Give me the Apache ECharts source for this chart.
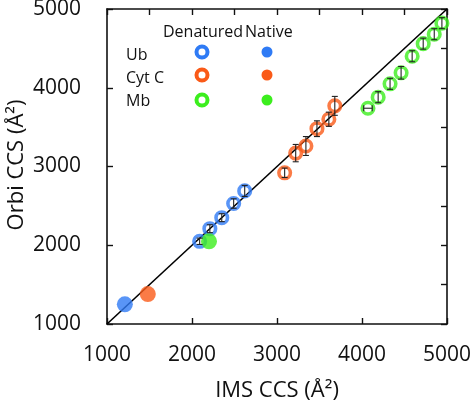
<!DOCTYPE html>
<html>
<head>
<meta charset="utf-8">
<script src="https://cdn.jsdelivr.net/npm/echarts@6/dist/echarts.min.js"></script>
<style>
  html, body { margin: 0; padding: 0; background: #fff; }
  #chart { width: 474px; height: 401px; }
</style>
</head>
<body>
<div id="chart"></div>
<script>
// data (CCS in Å²)
const ubDenatured = [[2090, 2050], [2210, 2210], [2350, 2350], [2490, 2530], [2620, 2690]];
const ubDenErr = [40, 50, 50, 60, 70];
const cytDenatured = [[3090, 2920], [3220, 3170], [3340, 3260], [3470, 3480], [3610, 3600], [3680, 3770]];
const cytDenErr = [60, 110, 120, 100, 90, 120];
const mbDenatured = [[4070, 3740], [4190, 3880], [4330, 4050], [4460, 4190], [4590, 4400], [4720, 4560], [4850, 4680], [4940, 4820]];
const mbDenErr = [0, 70, 70, 80, 70, 70, 70, 70];
const mbDenXErr = [50, 0, 0, 0, 0, 0, 0, 0];
const ubNative = [[1210, 1250]];
const cytNative = [[1480, 1380]];
const mbNative = [[2200, 2050]];
const identityLine = [[1000, 1000], [5000, 5000]];
const axisMin = 1000, axisMax = 5000;

const BLUE = '#2f7bf5', ORANGE = '#fa5a18', GREEN = '#3cee1e';
const FONT = '"Open Sans", sans-serif';
const INK = '#111';

// error bar rows: [x, y, yErr, xErr]
const errRows = [];
ubDenatured.forEach((p, i) => errRows.push([p[0], p[1], ubDenErr[i], 0]));
cytDenatured.forEach((p, i) => errRows.push([p[0], p[1], cytDenErr[i], 0]));
mbDenatured.forEach((p, i) => errRows.push([p[0], p[1], mbDenErr[i], mbDenXErr[i]]));

const chart = echarts.init(document.getElementById('chart'));

function openSeries(data, color) {
  return {
    type: 'scatter', data: data, symbol: 'circle', symbolSize: 11.5, z: 3,
    itemStyle: { color: 'rgba(0,0,0,0)', borderColor: color, borderWidth: 3.6 }
  };
}
function filledSeries(data, color) {
  return {
    type: 'scatter', data: data, symbol: 'circle', symbolSize: 16, z: 3,
    itemStyle: { color: color }
  };
}

const plainNum = v => String(v);
const tick = { show: true, inside: true, length: 6, lineStyle: { color: INK, width: 1.4 } };
const line = { show: true, lineStyle: { color: INK, width: 1.6 } };

chart.setOption({
  animation: false,
  grid: { left: 107, right: 27, top: 9, bottom: 77, outerBoundsMode: 'none' },
  xAxis: [{
    type: 'value', min: axisMin, max: axisMax, interval: 1000,
    name: 'IMS CCS (Å²)', nameLocation: 'middle', nameGap: 56,
    nameTextStyle: { fontFamily: FONT, fontSize: 22, color: INK },
    axisLine: line, axisTick: tick,
    axisLabel: { fontFamily: FONT, fontSize: 21, color: INK, margin: 21, formatter: plainNum },
    splitLine: { show: false }
  }, {
    type: 'value', position: 'top', min: axisMin, max: axisMax, interval: 500,
    axisLine: line, axisTick: tick,
    axisLabel: { show: false }, splitLine: { show: false }
  }],
  yAxis: [{
    type: 'value', min: axisMin, max: axisMax, interval: 1000,
    axisLine: line, axisTick: tick,
    axisLabel: { fontFamily: FONT, fontSize: 21, color: INK, margin: 26, formatter: plainNum },
    splitLine: { show: false }
  }, {
    type: 'value', position: 'right', min: axisMin, max: axisMax, interval: 500,
    axisLine: line, axisTick: tick,
    axisLabel: { show: false }, splitLine: { show: false }
  }],
  graphic: [
    { type: 'text', x: 17, y: 165, rotation: Math.PI / 2,
      style: { text: 'Orbi CCS (Å²)', font: '22px ' + FONT, fill: INK, align: 'center', verticalAlign: 'middle' } },
    { type: 'text', x: 163, y: 24, style: { text: 'Denatured', font: '16px ' + FONT, fill: INK } },
    { type: 'text', x: 245, y: 24, style: { text: 'Native', font: '16px ' + FONT, fill: INK } },
    { type: 'text', x: 126, y: 47, style: { text: 'Ub', font: '16px ' + FONT, fill: INK } },
    { type: 'text', x: 126, y: 70, style: { text: 'Cyt C', font: '16px ' + FONT, fill: INK } },
    { type: 'text', x: 126, y: 93, style: { text: 'Mb', font: '16px ' + FONT, fill: INK } },
    { type: 'circle', shape: { cx: 202, cy: 52, r: 5.5 }, style: { fill: 'none', stroke: BLUE, lineWidth: 4 } },
    { type: 'circle', shape: { cx: 202, cy: 75, r: 5.5 }, style: { fill: 'none', stroke: ORANGE, lineWidth: 4 } },
    { type: 'circle', shape: { cx: 202, cy: 100, r: 5.5 }, style: { fill: 'none', stroke: GREEN, lineWidth: 4 } },
    { type: 'circle', shape: { cx: 267, cy: 52, r: 5.5 }, style: { fill: BLUE } },
    { type: 'circle', shape: { cx: 267, cy: 75, r: 5.5 }, style: { fill: ORANGE } },
    { type: 'circle', shape: { cx: 267, cy: 100, r: 5.5 }, style: { fill: GREEN } }
  ],
  series: [
    {
      type: 'line', data: identityLine, symbol: 'none', z: 2,
      lineStyle: { color: '#000', width: 1.6 }
    },
    openSeries(ubDenatured, BLUE),
    openSeries(cytDenatured, ORANGE),
    openSeries(mbDenatured, GREEN),
    filledSeries(ubNative, BLUE),
    filledSeries(cytNative, ORANGE),
    filledSeries(mbNative, GREEN),
    {
      type: 'custom', data: errRows, z: 4, silent: true,
      renderItem: function (params, api) {
        const x = api.value(0), y = api.value(1), ey = api.value(2), ex = api.value(3);
        const children = [];
        const st = { stroke: '#222', lineWidth: 1.1 };
        const cap = 3;
        if (ey > 0) {
          const top = api.coord([x, y + ey]), bot = api.coord([x, y - ey]);
          children.push({ type: 'line', shape: { x1: top[0], y1: top[1], x2: bot[0], y2: bot[1] }, style: st });
          children.push({ type: 'line', shape: { x1: top[0] - cap, y1: top[1], x2: top[0] + cap, y2: top[1] }, style: st });
          children.push({ type: 'line', shape: { x1: bot[0] - cap, y1: bot[1], x2: bot[0] + cap, y2: bot[1] }, style: st });
        }
        if (ex > 0) {
          const l = api.coord([x - ex, y]), r = api.coord([x + ex, y]);
          children.push({ type: 'line', shape: { x1: l[0], y1: l[1], x2: r[0], y2: r[1] }, style: st });
          children.push({ type: 'line', shape: { x1: l[0], y1: l[1] - cap, x2: l[0], y2: l[1] + cap }, style: st });
          children.push({ type: 'line', shape: { x1: r[0], y1: r[1] - cap, x2: r[0], y2: r[1] + cap }, style: st });
        }
        return { type: 'group', children: children };
      }
    }
  ]
});

window.addEventListener('resize', () => chart.resize());
</script>
</body>
</html>
